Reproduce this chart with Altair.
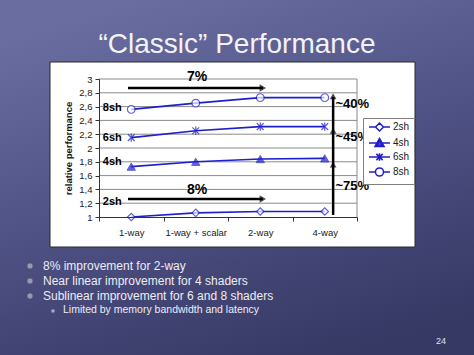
import json
import altair as alt
import pandas as pd

# ---------------- data ----------------
categories = ["1-way", "1-way + scalar", "2-way", "4-way"]
series_names = ["2sh", "4sh", "6sh", "8sh"]
perf_2sh = [1.00, 1.06, 1.08, 1.08]
perf_4sh = [1.73, 1.80, 1.84, 1.85]
perf_6sh = [2.15, 2.25, 2.31, 2.31]
perf_8sh = [2.56, 2.65, 2.73, 2.73]
y_tick_values = [1.0, 1.2, 1.4, 1.6, 1.8, 2.0, 2.2, 2.4, 2.6, 2.8, 3.0]

slide_title = "\u201cClassic\u201d Performance"
bullet_lines = [
    "8% improvement for 2-way",
    "Near linear improvement for 4 shaders",
    "Sublinear improvement for 6 and 8 shaders",
]
sub_bullet_line = "Limited by memory bandwidth and latency"
page_number = "24"

# annotations (in data units of the plot)
gain_texts = ["7%", "8%"]
gain_text_y = [3.03, 1.39]
gain_arrow_y = [2.87, 1.26]
gain_text_x = 1.02
gain_arrow_x = [-0.05, 2.04]

step_texts = ["~75%", "~45%", "~40%"]
step_text_y = [1.45, 2.16, 2.64]
step_head_y = [1.76, 2.25, 2.75]
step_shaft_y = [1.03, 2.74]
step_x = 3.13
step_text_x = 3.165

series_label_x = -0.44
series_label_y = [1.22, 1.80, 2.14, 2.58]

# ---------------- styling ----------------
BLUE = "#1f1fcc"
FONT = "Liberation Sans"
W, H = 258, 138
PAD = {"left": 99, "top": 79, "right": 117, "bottom": 138}

series_values = [perf_2sh, perf_4sh, perf_6sh, perf_8sh]
df = pd.DataFrame(
    [{"series": s, "xi": i, "perf": v}
     for s, vals in zip(series_names, series_values)
     for i, v in enumerate(vals)]
)

x_scale = alt.Scale(domain=[-0.5, 3.5], nice=False, zero=False)
y_scale = alt.Scale(domain=[1, 3], nice=False, zero=False)

label_expr_x = "datum.value % 1 == 0 ? " + json.dumps(categories) + "[datum.value] : ''"
x_axis = alt.Axis(
    values=[-0.5, 0, 0.5, 1, 1.5, 2, 2.5, 3, 3.5],
    labelExpr=label_expr_x, grid=False, tickSize=4, tickColor="#333",
    tickOpacity={"condition": {"test": "datum.value % 1 == 0", "value": 0}, "value": 1},
    domainColor="#333", labelFont=FONT, labelFontSize=9.5, labelColor="#1a1a1a",
    labelPadding=6, labelOverlap=False, labelFlush=False, zindex=1,
)
y_axis = alt.Axis(
    values=y_tick_values,
    labelExpr="replace(format(datum.value, '.1~f'), '.', ',')",
    grid=False, tickSize=4, tickColor="#333", domainColor="#333",
    labelFont=FONT, labelFontSize=9.5, labelColor="#1a1a1a", labelPadding=3,
    title="relative performance", titleFont=FONT, titleFontSize=9.5,
    titleFontWeight="bold", titleColor="#111", titleAngle=270, titleX=-31,
    titleY=69, titleAlign="center", titleBaseline="middle", zindex=1,
)


def X(field="xi"):
    return alt.X(f"{field}:Q", scale=x_scale, axis=x_axis, title=None)


def Y(field="perf"):
    return alt.Y(f"{field}:Q", scale=y_scale, axis=y_axis, title="relative performance")


one = pd.DataFrame({"k": [0]})

# background of the slide
background = alt.Chart(one).mark_rect(
    color=alt.Gradient(
        gradient="linear",
        stops=[alt.GradientStop(color="#6a6d9f", offset=0),
               alt.GradientStop(color="#4e5183", offset=0.5),
               alt.GradientStop(color="#363964", offset=1)],
        x1=0.3, x2=0.7, y1=0, y2=1,
    )
).encode(x=alt.value(-99), x2=alt.value(375), y=alt.value(-79), y2=alt.value(276))

white_box = alt.Chart(one).mark_rect(fill="white", stroke="#2a2a2a", strokeWidth=1).encode(
    x=alt.value(-49), x2=alt.value(316), y=alt.value(-17), y2=alt.value(168)
)

grid_df = pd.DataFrame({"perf": [v for v in y_tick_values if v > 1.0]})
grid = alt.Chart(grid_df).mark_rule(color="#8a8a8a", strokeWidth=1).encode(y=Y())
right_border = alt.Chart(pd.DataFrame({"xi": [3.5]})).mark_rule(color="#8a8a8a", strokeWidth=1).encode(x=X())

lines = alt.Chart(df).mark_line(color=BLUE, strokeWidth=1.6).encode(x=X(), y=Y(), detail="series:N")

star_path = "M-1,-1L1,1M-1,1L1,-1M0,-1.25L0,1.25"
point_styles = {
    "2sh": dict(shape="diamond", size=55, filled=True, fill="white", stroke=BLUE, strokeWidth=1.2),
    "4sh": dict(shape="triangle-up", size=70, filled=True, fill=BLUE, stroke=BLUE, strokeWidth=1),
    "6sh": dict(shape=star_path, size=45, filled=False, color=BLUE, strokeWidth=1.3),
    "8sh": dict(shape="circle", size=60, filled=True, fill="white", stroke=BLUE, strokeWidth=1.2),
}
points = [
    alt.Chart(df).transform_filter(alt.datum.series == s).mark_point(**point_styles[s]).encode(x=X(), y=Y())
    for s in series_names
]

# horizontal gain arrows
gain_df = pd.DataFrame({"xi": [gain_arrow_x[0]] * 2, "xi2": [gain_arrow_x[1]] * 2, "perf": gain_arrow_y})
gain_rules = alt.Chart(gain_df).mark_rule(color="black", strokeWidth=2.5).encode(x=X(), x2="xi2:Q", y=Y())
gain_heads = alt.Chart(gain_df).mark_point(shape="triangle-right", size=55, filled=True, color="black").encode(
    x=X("xi2"), y=Y())
gain_lbl_df = pd.DataFrame({"xi": [gain_text_x] * 2, "perf": gain_text_y, "t": gain_texts})
gain_labels = alt.Chart(gain_lbl_df).mark_text(font=FONT, fontSize=14, fontWeight="bold", color="black").encode(
    x=X(), y=Y(), text="t:N")

# vertical step arrows
shaft_df = pd.DataFrame({"xi": [step_x], "perf": [step_shaft_y[0]], "perf2": [step_shaft_y[1]]})
shaft = alt.Chart(shaft_df).mark_rule(color="black", strokeWidth=2.5).encode(x=X(), y=Y(), y2="perf2:Q")
heads_df = pd.DataFrame({"xi": [step_x] * 3, "perf": step_head_y})
step_heads = alt.Chart(heads_df).mark_point(shape="triangle-up", size=45, filled=True, color="black").encode(
    x=X(), y=Y())
step_lbl_df = pd.DataFrame({"xi": [step_text_x] * 3, "perf": step_text_y, "t": step_texts})
step_labels = alt.Chart(step_lbl_df).mark_text(font=FONT, fontSize=13, fontWeight="bold", color="black",
                                               align="left").encode(x=X(), y=Y(), text="t:N")

series_lbl_df = pd.DataFrame({"xi": [series_label_x] * 4, "perf": series_label_y, "t": series_names})
series_labels = alt.Chart(series_lbl_df).mark_text(font=FONT, fontSize=11, fontWeight="bold", color="black",
                                                   align="left").encode(x=X(), y=Y(), text="t:N")

# legend (real legend with line+marker symbols)
legend_paths = [
    "M-3,0H-1.15M1.15,0H3M0,-1.15L1.15,0L0,1.15L-1.15,0Z",
    "M-3,0H3M0,-1.3L1.3,1L-1.3,1ZM0,-0.55L0.6,0.6L-0.6,0.6Z",
    "M-3,0H3M-0.9,-0.9L0.9,0.9M-0.9,0.9L0.9,-0.9M0,-1.1L0,1.1",
    "M-3,0H-1.15M1.15,0H3M1.15,0A1.15,1.15,0,1,1,-1.15,0A1.15,1.15,0,1,1,1.15,0Z",
]
legend_layer = alt.Chart(df).mark_point(opacity=0, filled=False, color=BLUE, size=49).encode(
    x=X(), y=Y(),
    shape=alt.Shape(
        "series:N",
        scale=alt.Scale(domain=series_names, range=legend_paths),
        legend=alt.Legend(
            title=None, orient="none", legendX=264, legendY=39, padding=4,
            strokeColor="#7f7f7f", fillColor="white", symbolSize=49,
            symbolStrokeWidth=1.5, symbolStrokeColor=BLUE, symbolFillColor="white",
            symbolOpacity=1, symbolOffset=7.5, labelOffset=8.5, labelFont=FONT,
            labelFontSize=10, labelColor="#1a1a1a", rowPadding=0,
        ),
    ),
)

# slide title and bullets
title_df = pd.DataFrame({"t": [slide_title]})
title_text = alt.Chart(title_df).mark_text(font=FONT, fontSize=28, color="#f2f2f8",
                                           align="center", baseline="alphabetic").encode(
    x=alt.value(138), y=alt.value(-26), text="t:N")

slide_layers = []
for i, line in enumerate(bullet_lines):
    ldf = pd.DataFrame({"t": [line]})
    yy = 187 + 15 * i
    slide_layers.append(alt.Chart(ldf).mark_point(shape="circle", size=38, filled=True, fill="#b9bac8",
                                                  stroke="#55566e", strokeWidth=0.8).encode(
        x=alt.value(-69), y=alt.value(yy)))
    slide_layers.append(alt.Chart(ldf).mark_text(font=FONT, fontSize=12, color="#ececf4",
                                                 align="left", baseline="middle").encode(
        x=alt.value(-56), y=alt.value(yy), text="t:N"))

sub_df = pd.DataFrame({"t": [sub_bullet_line]})
slide_layers.append(alt.Chart(sub_df).mark_point(shape="square", size=9, filled=True, color="#d8d8e4").encode(
    x=alt.value(-46), y=alt.value(232)))
slide_layers.append(alt.Chart(sub_df).mark_text(font=FONT, fontSize=10.5, color="#ececf4",
                                                align="left", baseline="middle").encode(
    x=alt.value(-36), y=alt.value(231), text="t:N"))
page_df = pd.DataFrame({"t": [page_number]})
slide_layers.append(alt.Chart(page_df).mark_text(font=FONT, fontSize=9, color="#e0e0ea",
                                                 align="center", baseline="middle").encode(
    x=alt.value(342), y=alt.value(262), text="t:N"))

chart = alt.layer(
    background, white_box, grid, right_border, lines, *points,
    gain_rules, gain_heads, gain_labels, shaft, step_heads, step_labels, series_labels,
    legend_layer, title_text, *slide_layers,
).properties(
    width=W, height=H, padding=PAD,
    autosize=alt.AutoSizeParams(type="none"),
    background="#4e5183",
).configure_view(strokeWidth=0)

chart.save("out.html", embed_options={"renderer": "svg", "actions": False})
